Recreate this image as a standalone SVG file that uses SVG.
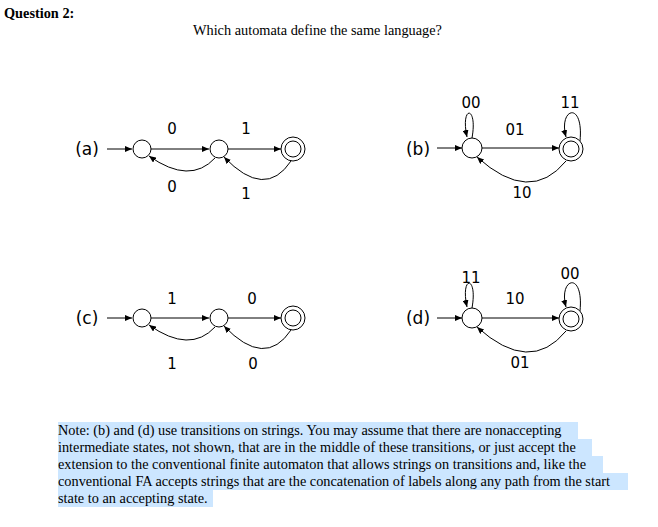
<svg xmlns="http://www.w3.org/2000/svg" width="658" height="527" viewBox="0 0 658 527">
<style>
.s{fill:#fff;stroke:#000;stroke-width:1}
.e{fill:none;stroke:#000;stroke-width:1}
.l{font-family:"DejaVu Sans",sans-serif;font-size:15px;text-anchor:middle}
.p{font-family:"DejaVu Sans",sans-serif;font-size:17px;text-anchor:middle}
.t{font-family:"Liberation Serif",serif;font-size:14.3px}
</style>
<defs><marker id="a" markerUnits="userSpaceOnUse" markerWidth="7" markerHeight="6" refX="7" refY="3" orient="auto"><path d="M0,0L7,3L0,6z"/></marker></defs>
<rect width="658" height="527" fill="#fff"/>
<text class="t" x="4" y="18" font-weight="bold">Question 2:</text>
<text class="t" x="193" y="35">Which automata define the same language?</text>
<g id="connectors">
<line class="e" x1="107" y1="149" x2="132" y2="149" marker-end="url(#a)"/>
<line class="e" x1="151" y1="149" x2="209" y2="149" marker-end="url(#a)"/>
<line class="e" x1="228" y1="149" x2="281" y2="149" marker-end="url(#a)"/>
<path class="e" d="M215,158 Q190,185 149,156" marker-end="url(#a)"/>
<path class="e" d="M291,161 Q265,200 224,157" marker-end="url(#a)"/>
<line class="e" x1="437" y1="148" x2="462" y2="148" marker-end="url(#a)"/>
<line class="e" x1="482" y1="148" x2="559" y2="148" marker-end="url(#a)"/>
<path class="e" d="M472,138 C478,105 460,105 467,137" marker-end="url(#a)"/>
<path class="e" d="M580,141 C584,100 558,108 566,137" marker-end="url(#a)"/>
<path class="e" d="M566,161 Q530,205 477,157" marker-end="url(#a)"/>
<line class="e" x1="107" y1="318" x2="132" y2="318" marker-end="url(#a)"/>
<line class="e" x1="151" y1="318" x2="209" y2="318" marker-end="url(#a)"/>
<line class="e" x1="228" y1="318" x2="281" y2="318" marker-end="url(#a)"/>
<path class="e" d="M215,327 Q190,354 149,325" marker-end="url(#a)"/>
<path class="e" d="M291,330 Q265,369 224,326" marker-end="url(#a)"/>
<line class="e" x1="437" y1="318" x2="462" y2="318" marker-end="url(#a)"/>
<line class="e" x1="482" y1="318" x2="559" y2="318" marker-end="url(#a)"/>
<path class="e" d="M472,308 C478,275 460,275 467,307" marker-end="url(#a)"/>
<path class="e" d="M580,311 C584,270 558,278 566,307" marker-end="url(#a)"/>
<path class="e" d="M566,331 Q530,375 477,327" marker-end="url(#a)"/>
</g>
<g id="a-diagram">
<text class="p" x="87" y="155">(a)</text>
<circle class="s" cx="142" cy="149" r="9"/><circle class="s" cx="219" cy="149" r="9"/>
<circle class="s" cx="293" cy="149" r="12"/><circle class="s" cx="293" cy="149" r="8"/>
<text class="l" x="172" y="134">0</text><text class="l" x="246" y="134">1</text>
<text class="l" x="172" y="192">0</text><text class="l" x="246" y="199">1</text>
</g>
<g id="b-diagram">
<text class="p" x="418" y="155">(b)</text>
<circle class="s" cx="472" cy="148" r="10"/>
<circle class="s" cx="571" cy="149" r="12"/><circle class="s" cx="571" cy="149" r="8"/>
<text class="l" x="471" y="108">00</text><text class="l" x="570" y="108">11</text>
<text class="l" x="515" y="135">01</text><text class="l" x="522" y="198">10</text>
</g>
<g id="c-diagram">
<text class="p" x="87" y="324">(c)</text>
<circle class="s" cx="142" cy="318" r="9"/><circle class="s" cx="219" cy="318" r="9"/>
<circle class="s" cx="293" cy="318" r="12"/><circle class="s" cx="293" cy="318" r="8"/>
<text class="l" x="172" y="304">1</text><text class="l" x="252" y="304">0</text>
<text class="l" x="172" y="369">1</text><text class="l" x="253" y="369">0</text>
</g>
<g id="d-diagram">
<text class="p" x="418" y="324">(d)</text>
<circle class="s" cx="472" cy="318" r="10"/>
<circle class="s" cx="571" cy="319" r="12"/><circle class="s" cx="571" cy="319" r="8"/>
<text class="l" x="471" y="283">11</text><text class="l" x="570" y="279">00</text>
<text class="l" x="515" y="304">10</text><text class="l" x="520" y="368">01</text>
</g>
<g id="note">
<rect x="58" y="422" width="520" height="17" fill="#cce6ff"/>
<rect x="58" y="439" width="534" height="17" fill="#cce6ff"/>
<rect x="58" y="456" width="545" height="17" fill="#cce6ff"/>
<rect x="58" y="473" width="570" height="17" fill="#cce6ff"/>
<rect x="58" y="490" width="155" height="17" fill="#cce6ff"/>
<text class="t" x="58" y="435">Note: (b) and (d) use transitions on strings. You may assume that there are nonaccepting</text>
<text class="t" x="58" y="452">intermediate states, not shown, that are in the middle of these transitions, or just accept the</text>
<text class="t" x="58" y="469">extension to the conventional finite automaton that allows strings on transitions and, like the</text>
<text class="t" x="58" y="486">conventional FA accepts strings that are the concatenation of labels along any path from the start</text>
<text class="t" x="58" y="503">state to an accepting state.</text>
</g>
</svg>
